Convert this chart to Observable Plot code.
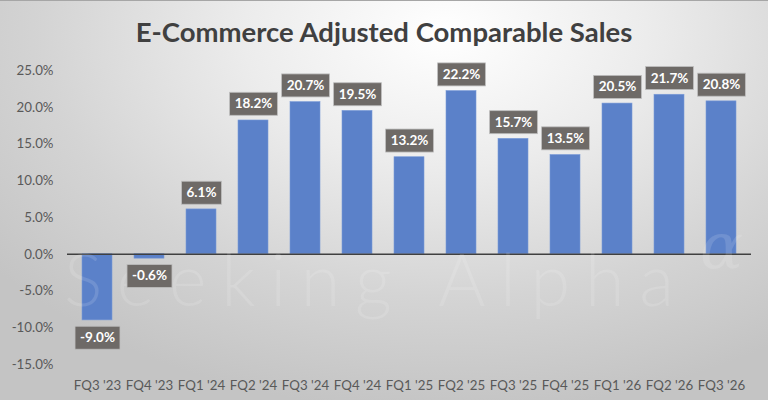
<!DOCTYPE html>
<html>
<head>
<meta charset="utf-8">
<script src="https://cdn.jsdelivr.net/npm/d3@7"></script>
<script src="https://cdn.jsdelivr.net/npm/@observablehq/plot@0.6"></script>
<style>
  html, body { margin: 0; padding: 0; }
  #chart {
    position: relative;
    width: 768px; height: 400px; box-sizing: border-box;
    border-top: 1px solid #a6a6a6;
    background: radial-gradient(ellipse 75% 95% at 58% 8%, #ffffff 0%, #ececec 35%, #d4d4d4 70%, #c4c4c4 100%);
    font-family: Lato, "Open Sans", sans-serif;
    overflow: hidden;
  }
  #title {
    height: 54px; line-height: 62px; text-align: center;
    font-size: 27.5px; font-weight: bold; color: #404040;
  }
  #chart svg { display: block; background: transparent !important; }
</style>
</head>
<body>
<div id="chart">
  <div id="title">E-Commerce Adjusted Comparable Sales</div>
</div>
<script>
const quarters = ["FQ3 '23","FQ4 '23","FQ1 '24","FQ2 '24","FQ3 '24","FQ4 '24","FQ1 '25","FQ2 '25","FQ3 '25","FQ4 '25","FQ1 '26","FQ2 '26","FQ3 '26"];
const growth = [-9.0, -0.6, 6.1, 18.2, 20.7, 19.5, 13.2, 22.2, 15.7, 13.5, 20.5, 21.7, 20.8];
const yTicks = [-15, -10, -5, 0, 5, 10, 15, 20, 25];

const data = quarters.map((q, i) => ({q, v: growth[i]}));
const fmt = v => v.toFixed(1) + "%";

const plot = Plot.plot({
  width: 768,
  height: 346,
  marginTop: 15,
  marginBottom: 37,
  marginLeft: 67,
  marginRight: 17,
  style: {background: "transparent", fontFamily: "Lato, 'Open Sans', sans-serif", fontSize: "13.3px", color: "#595959"},
  x: {domain: quarters, paddingInner: 0.42, paddingOuter: 0.21, label: null},
  y: {domain: [-15, 25], label: null},
  marks: [
    Plot.barY(data, {x: "q", y: "v", fill: "#5b81c9", stroke: "#7b9bd8", strokeWidth: 0.6}),
    Plot.ruleY([0], {stroke: "#404040", strokeWidth: 1.3}),
    Plot.axisY({ticks: yTicks, tickFormat: fmt, tickSize: 0, tickPadding: 14, fill: "#595959", fontSize: 13.3}),
    Plot.axisX({tickSize: 0, tickPadding: 16, fill: "#595959", fontSize: 13.3}),
    Plot.text(data.filter(d => d.v >= 0), {x: "q", y: "v", text: d => fmt(d.v), dy: -16.5, fill: "white", fontWeight: "bold", fontSize: 13.5, className: "vlabel"}),
    Plot.text(data.filter(d => d.v < 0), {x: "q", y: "v", text: d => fmt(d.v), dy: 17.5, fill: "white", fontWeight: "bold", fontSize: 13.5, className: "vlabel"})
  ]
});
document.getElementById("chart").appendChild(plot);

// draw label boxes behind value labels
d3.select(plot).selectAll("g.vlabel text").each(function() {
  const b = this.getBBox();
  const t = this.getAttribute("transform");
  const padX = 5, h = 23;
  const cy = b.y + b.height / 2;
  d3.select(this.parentNode).insert("rect", () => this)
    .attr("transform", t)
    .attr("x", b.x - padX).attr("y", cy - h / 2 + 0.5)
    .attr("width", b.width + 2 * padX).attr("height", h)
    .attr("fill", "#6e6a67").attr("stroke", "#bdbdbd").attr("stroke-width", 0.8);
});

// very faint watermark, drawn over the bars but under the value labels
const wm = d3.select(plot).insert("g", "g.vlabel").attr("aria-hidden", "true")
  .attr("text-anchor", "start").style("pointer-events", "none");
wm.append("text").attr("x", 64).attr("y", 251).attr("text-anchor", "start")
  .attr("font-family", "Lato, sans-serif").attr("font-weight", 300).attr("font-size", 72)
  .attr("textLength", 610).attr("lengthAdjust", "spacing")
  .attr("fill", "white").attr("fill-opacity", 0.13).text("Seeking Alpha");
wm.append("text").attr("x", 700).attr("y", 213).attr("text-anchor", "start")
  .attr("font-family", "DejaVu Serif, serif").attr("font-style", "italic").attr("font-size", 64)
  .attr("fill", "white").attr("fill-opacity", 0.13).text("α");
</script>
</body>
</html>
